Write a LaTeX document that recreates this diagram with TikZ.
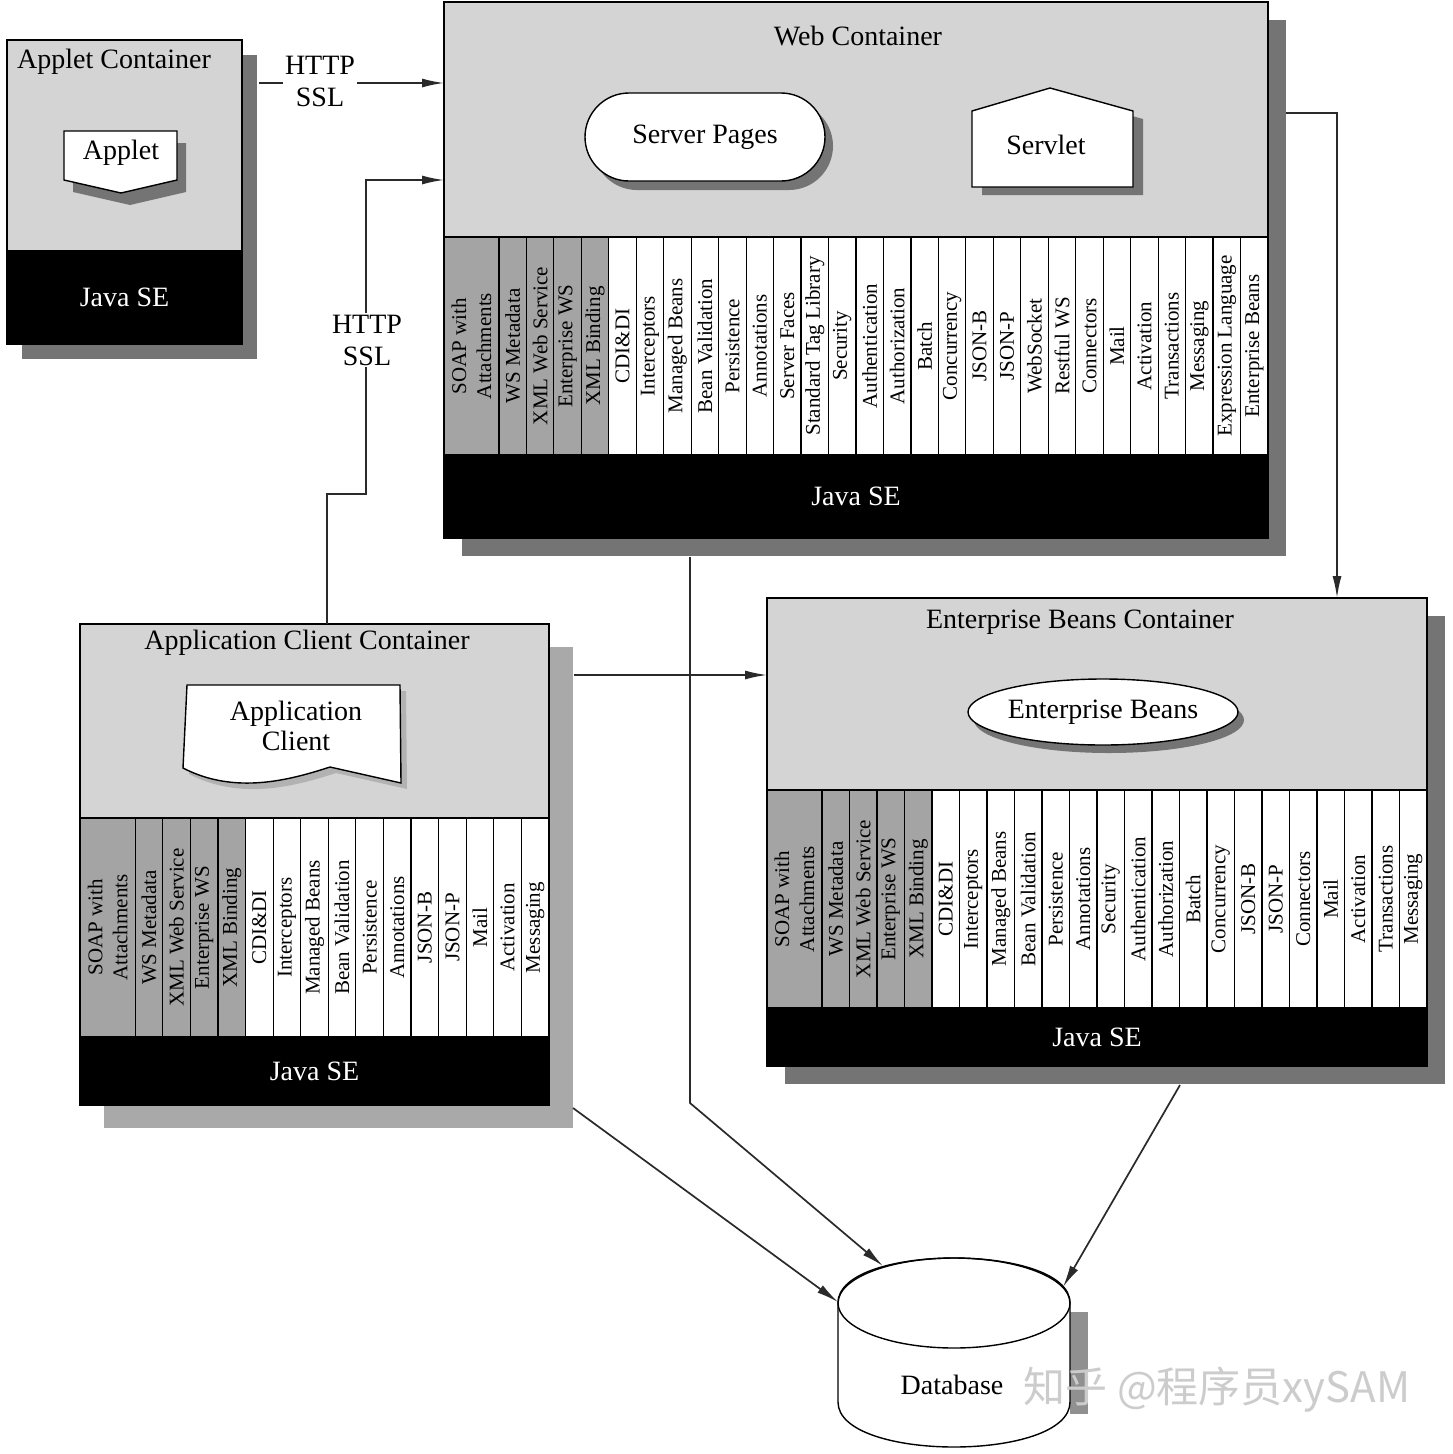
\documentclass[tikz,border=0pt]{standalone}
\usepackage{fontspec}
\setmainfont{Liberation Serif}
\newfontfamily\cjkwm{Noto Sans CJK SC}
\usetikzlibrary{arrows.meta,shapes.misc,shapes.geometric,calc}
\definecolor{boxgray}{HTML}{D4D4D4}
\definecolor{colgray}{HTML}{A4A4A4}
\definecolor{shgray}{HTML}{747474}
\definecolor{shlight}{HTML}{A9A9A9}
\definecolor{lncol}{HTML}{2A2A2A}

\newcommand\colstrip[6]{%
  \pgfmathsetmacro\cyy{(#4+#5)/2}%
  \pgfmathsetmacro\chh{#5-#4}%
  \node[colg,minimum width=\chh,minimum height=2*#3] (#1s) at ({#2+#3},\cyy) {SOAP with\\Attachments};
  \foreach \t [count=\i] in {WS Metadata,XML Web Service,Enterprise WS,XML Binding}
    \node[colg,minimum width=\chh,minimum height=#3] (#1g\i) at ({#2+(1.5+\i)*#3},\cyy) {\t};
  \foreach \t [count=\i] in {#6}
    \node[colw,minimum width=\chh,minimum height=#3] (#1w\i) at ({#2+(5.5+\i)*#3},\cyy) {\t};
}

\begin{document}
\begin{tikzpicture}[x=1pt,y=-1pt,
  ctr/.style={draw=black,line width=1.6pt,fill=boxgray,inner sep=0,outer sep=0,rectangle},
  base/.style={draw=black,line width=1.6pt,fill=black,text=white,inner sep=0,outer sep=0,font=\fontsize{28}{30}\selectfont},
  shd/.style={fill=shgray,draw=none,inner sep=0,outer sep=0,rectangle},
  ttl/.style={font=\fontsize{28}{30}\selectfont,inner sep=0},
  colg/.style={draw=black,line width=1.2pt,fill=colgray,rotate=90,inner sep=0,outer sep=0,font=\fontsize{21}{25}\selectfont,align=center},
  colw/.style={colg,fill=white},
  arr/.style={draw=lncol,line width=1.7pt,-{Latex[length=22pt,width=9pt]}},
  lbl/.style={fill=white,inner sep=2pt,font=\fontsize{28}{32}\selectfont,align=center},
  wshape/.style={draw=black,line width=1.4pt,fill=white},
]
\useasboundingbox (0,0) rectangle (1453,1454);
\fill[white] (0,0) rectangle (1453,1454);

% ---------------- Applet container
\node[shd,minimum width=235,minimum height=304] (appsh) at (139.5,207) {};
\node[ctr,minimum width=235,minimum height=304] (applc) at (124.5,192) {};
\node[base,minimum width=235,minimum height=93] (applj) at (124.5,297.5) {Java SE};
\node[ttl,anchor=west] (applt) at (17,62) {Applet Container};
\begin{scope}[shift={(9,12)}]
  \fill[shgray] (64,131) -- (177,131) -- (177,180) -- (121,193) -- (64,180) -- cycle;
\end{scope}
\draw[wshape] (64,131) -- (177,131) -- (177,180) -- (121,193) -- (64,180) -- cycle;
\node[ttl] (applet) at (121,153) {Applet};

% ---------------- Web container
\node[shd,minimum width=824,minimum height=536] (websh) at (874,288) {};
\node[ctr,minimum width=824,minimum height=536] (webc) at (856,270) {};
\node[ttl] (webt) at (858,36) {Web Container};
\colstrip{wc}{444}{27.467}{237}{455}{CDI\&DI,Interceptors,Managed Beans,Bean Validation,Persistence,Annotations,Server Faces,Standard Tag Library,Security,Authentication,Authorization,Batch,Concurrency,JSON-B,JSON-P,WebSocket,Restful WS,Connectors,Mail,Activation,Transactions,Messaging,Expression Language,Enterprise Beans}
\node[base,minimum width=824,minimum height=83] (webj) at (856,496.5) {Java SE};
% server pages
\node[rounded rectangle,fill=shgray,minimum width=240,minimum height=88,inner sep=0] (spsh) at (713,146) {};
\node[rounded rectangle,wshape,minimum width=240,minimum height=88,inner sep=0,font=\fontsize{28}{30}\selectfont] (sp) at (705,137) {Server Pages};
% servlet
\begin{scope}[shift={(10,8)}]
  \fill[shgray] (972,111) -- (1050,88) -- (1133,111) -- (1133,187) -- (972,187) -- cycle;
\end{scope}
\draw[wshape] (972,111) -- (1050,88) -- (1133,111) -- (1133,187) -- (972,187) -- cycle;
\node[ttl] (svl) at (1046,145) {Servlet};

% ---------------- Application client container
\node[shd,fill=shlight,minimum width=469,minimum height=481] (acsh) at (338.5,887.5) {};
\node[ctr,minimum width=469,minimum height=481] (acc) at (314.5,864.5) {};
\node[ttl] (act) at (307,643) {Application Client Container};
\colstrip{ac}{80}{27.588}{818}{1037}{CDI\&DI,Interceptors,Managed Beans,Bean Validation,Persistence,Annotations,JSON-B,JSON-P,Mail,Activation,Messaging}
\node[base,minimum width=469,minimum height=68] (acj) at (314.5,1071) {Java SE};
\begin{scope}[shift={(6,6)}]
  \fill[gray!60] (187,685) -- (400,685) -- (401,783) -- (330,767) .. controls (290,780) and (235,795) .. (183,768) -- cycle;
\end{scope}
\draw[wshape] (187,685) -- (400,685) -- (401,783) -- (330,767) .. controls (290,780) and (235,795) .. (183,768) -- cycle;
\node[ttl,align=center,font=\fontsize{28}{30}\selectfont] (apcl) at (296,726) {Application\\Client};

% ---------------- Enterprise beans container
\node[shd,minimum width=660,minimum height=468] (ejbsh) at (1115,850) {};
\node[ctr,minimum width=660,minimum height=468] (ejbc) at (1097,832) {};
\node[ttl] (ejbt) at (1080,622) {Enterprise Beans Container};
\colstrip{ec}{767}{27.5}{790}{1008}{CDI\&DI,Interceptors,Managed Beans,Bean Validation,Persistence,Annotations,Security,Authentication,Authorization,Batch,Concurrency,JSON-B,JSON-P,Connectors,Mail,Activation,Transactions,Messaging}
\node[base,minimum width=660,minimum height=58] (ejbj) at (1097,1037) {Java SE};
\node[ellipse,fill=shgray,minimum width=270,minimum height=66,inner sep=0] (ebsh) at (1109,720) {};
\node[ellipse,wshape,minimum width=270,minimum height=66,inner sep=0,font=\fontsize{28}{30}\selectfont] (eb) at (1103,712) {Enterprise Beans};

% ---------------- Database
\fill[shgray!80] (1070,1312) rectangle (1088,1414);
\draw[wshape] (838,1303) -- (838,1402) .. controls (838,1462) and (1070,1462) .. (1070,1402) -- (1070,1303) .. controls (1070,1243) and (838,1243) .. (838,1303) -- cycle;
\draw[line width=1.4pt] (954,1303) ellipse [x radius=116,y radius=45];
\node[ttl] (db) at (952,1385) {Database};

% ---------------- connectors
\coordinate (c1s) at (259,83);
\coordinate (c1e) at (444,83);
\draw[arr] (c1s) -- (c1e);
\node[lbl] (h1) at (320,81) {HTTP\\SSL};

\coordinate (c2s) at (327,624);
\coordinate (c2e) at (444,180);
\draw[arr] (c2s) -- (327,494) -- (366,494) -- (366,180) -- (c2e);
\node[lbl] (h2) at (367,340) {HTTP\\SSL};

\coordinate (c3s) at (1286,113);
\coordinate (c3e) at (1337,598);
\draw[arr] (c3s) -| (c3e);

\coordinate (c4s) at (574,675);
\coordinate (c4e) at (767,675);
\draw[arr] (c4s) -- (c4e);

\coordinate (c5s) at (690,557);
\coordinate (c5e) at (883,1266);
\draw[arr] (c5s) -- (690,1103) -- (c5e);

\coordinate (c6s) at (573,1108);
\coordinate (c6e) at (838,1302);
\draw[arr] (c6s) -- (c6e);

\coordinate (c7s) at (1180,1085);
\coordinate (c7e) at (1063,1287);
\draw[arr] (c7s) -- (c7e);

% watermark
\node[font=\cjkwm\fontsize{42}{42}\selectfont,text=gray!40,inner sep=0] (wm) at (1217,1390) {知乎 @程序员xySAM};
\end{tikzpicture}
\end{document}
